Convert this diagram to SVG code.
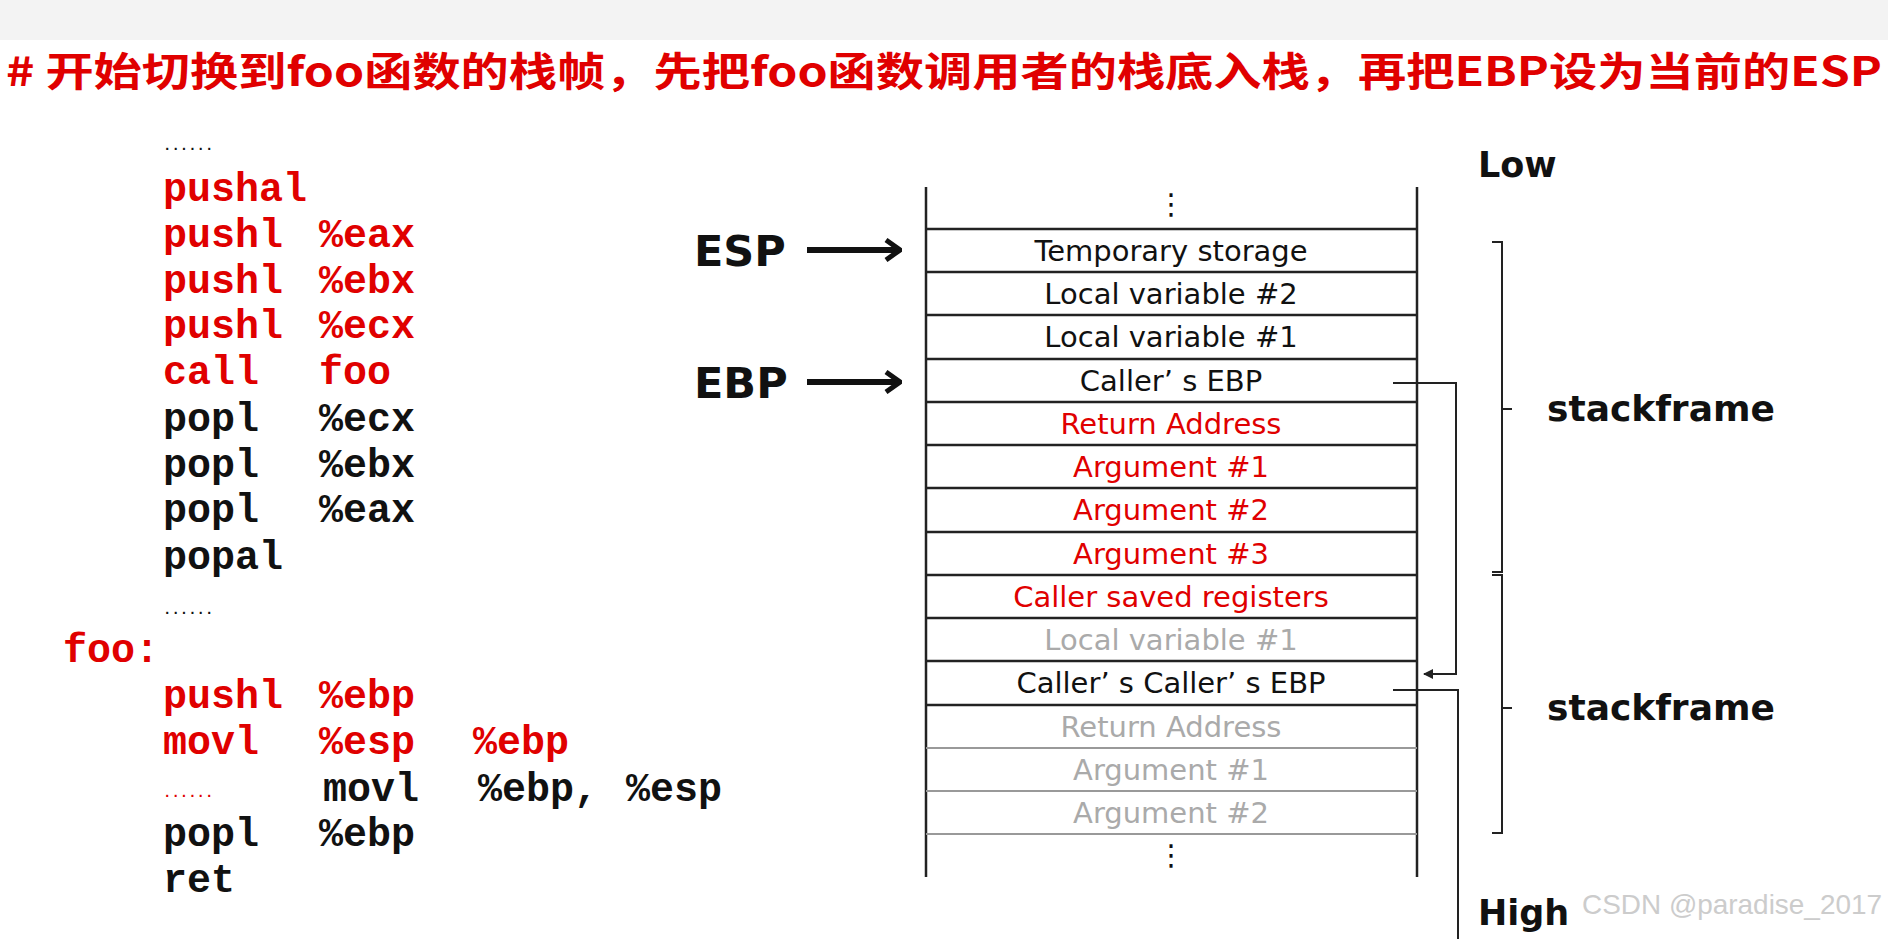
<svg xmlns="http://www.w3.org/2000/svg" width="1888" height="939" viewBox="0 0 1888 939">
<style>
.t{font-family:"Noto Sans CJK SC","Liberation Sans",sans-serif;font-weight:bold;fill:#e00000;font-size:40px}
.c{font-family:"Liberation Mono",monospace;font-weight:bold;font-size:40px}
.d{font-size:14px}
.r{fill:#e00000}.k{fill:#111}
.cell{font-family:"DejaVu Sans",sans-serif;font-size:29px;text-anchor:middle}
.g{fill:#aaa}
.lbl{font-family:"DejaVu Sans",sans-serif;font-weight:bold;fill:#111}
.ln{stroke:#222;stroke-width:2.5;fill:none}
.lg{stroke:#999;stroke-width:2;fill:none}
.cn{stroke:#222;stroke-width:2;fill:none}
</style>
<defs>
<marker id="ah" markerWidth="10" markerHeight="10" refX="9" refY="5" orient="auto" markerUnits="userSpaceOnUse"><path d="M0,0 L10,5 L0,10 z" fill="#222"/></marker>
<marker id="big" markerWidth="18" markerHeight="24" refX="16" refY="12" orient="auto" markerUnits="userSpaceOnUse"><path d="M2,2 L16,12 L2,22" fill="none" stroke="#111" stroke-width="5"/></marker>
</defs>
<rect width="1888" height="939" fill="#fff"/>
<rect width="1888" height="40" fill="#f3f3f3"/>
<text class="t" x="6" y="86" textLength="1876" lengthAdjust="spacingAndGlyphs"># 开始切换到foo函数的栈帧，先把foo函数调用者的栈底入栈，再把EBP设为当前的ESP</text>
<g id="code">
<text class="c k d" x="163" y="150">......</text>
<text class="c r" x="163" y="201">pushal</text>
<text class="c r" x="163" y="247">pushl<tspan x="319">%eax</tspan></text>
<text class="c r" x="163" y="293">pushl<tspan x="319">%ebx</tspan></text>
<text class="c r" x="163" y="338">pushl<tspan x="319">%ecx</tspan></text>
<text class="c r" x="163" y="384">call<tspan x="319">foo</tspan></text>
<text class="c k" x="163" y="431">popl<tspan x="319">%ecx</tspan></text>
<text class="c k" x="163" y="477">popl<tspan x="319">%ebx</tspan></text>
<text class="c k" x="163" y="522">popl<tspan x="319">%eax</tspan></text>
<text class="c k" x="163" y="569">popal</text>
<text class="c k d" x="163" y="614">......</text>
<text class="c r" x="63" y="662">foo:</text>
<text class="c r" x="163" y="708">pushl<tspan x="319">%ebp</tspan></text>
<text class="c r" x="163" y="754">movl<tspan x="319">%esp</tspan><tspan x="473">%ebp</tspan></text>
<text class="c r d" x="163" y="797">......</text>
<text class="c k" x="323" y="801">movl<tspan x="478">%ebp,</tspan><tspan x="626">%esp</tspan></text>
<text class="c k" x="163" y="846">popl<tspan x="319">%ebp</tspan></text>
<text class="c k" x="163" y="892">ret</text>
</g>
<g id="stack">
<line class="ln" x1="926" y1="187" x2="926" y2="877"/>
<line class="ln" x1="1417" y1="187" x2="1417" y2="877"/>
<g class="ln">
<line x1="926" y1="229" x2="1417" y2="229"/><line x1="926" y1="272" x2="1417" y2="272"/>
<line x1="926" y1="315" x2="1417" y2="315"/><line x1="926" y1="359" x2="1417" y2="359"/>
<line x1="926" y1="402" x2="1417" y2="402"/><line x1="926" y1="445" x2="1417" y2="445"/>
<line x1="926" y1="488" x2="1417" y2="488"/><line x1="926" y1="532" x2="1417" y2="532"/>
<line x1="926" y1="575" x2="1417" y2="575"/><line x1="926" y1="618" x2="1417" y2="618"/>
<line x1="926" y1="661" x2="1417" y2="661"/><line x1="926" y1="705" x2="1417" y2="705"/>
</g>
<g class="lg"><line x1="926" y1="748" x2="1417" y2="748"/><line x1="926" y1="791" x2="1417" y2="791"/><line x1="926" y1="834" x2="1417" y2="834"/></g>
<text class="cell k" x="1171" y="214" font-size="22">⋮</text>
<text class="cell k" x="1171" y="261">Temporary storage</text>
<text class="cell k" x="1171" y="304">Local variable #2</text>
<text class="cell k" x="1171" y="347">Local variable #1</text>
<text class="cell k" x="1171" y="391">Caller’ s EBP</text>
<text class="cell r" x="1171" y="434">Return Address</text>
<text class="cell r" x="1171" y="477">Argument #1</text>
<text class="cell r" x="1171" y="520">Argument #2</text>
<text class="cell r" x="1171" y="564">Argument #3</text>
<text class="cell r" x="1171" y="607">Caller saved registers</text>
<text class="cell g" x="1171" y="650">Local variable #1</text>
<text class="cell k" x="1171" y="693">Caller’ s Caller’ s EBP</text>
<text class="cell g" x="1171" y="737">Return Address</text>
<text class="cell g" x="1171" y="780">Argument #1</text>
<text class="cell g" x="1171" y="823">Argument #2</text>
<text class="cell k" x="1171" y="865" font-size="22">⋮</text>
</g>
<g id="labels">
<text class="lbl" x="694" y="266" font-size="43">ESP</text>
<text class="lbl" x="694" y="398" font-size="43">EBP</text>
<text class="lbl" x="1478" y="177" font-size="35">Low</text>
<text class="lbl" x="1478" y="925" font-size="35">High</text>
<text class="lbl" x="1547" y="421" font-size="36">stackframe</text>
<text class="lbl" x="1547" y="720" font-size="36">stackframe</text>
<text x="1582" y="914" font-family="Liberation Sans,sans-serif" font-size="28" fill="#ccc" textLength="300" lengthAdjust="spacingAndGlyphs">CSDN @paradise_2017</text>
</g>
<g id="connectors">
<line x1="807" y1="250" x2="900" y2="250" stroke="#111" stroke-width="6" marker-end="url(#big)"/>
<line x1="807" y1="382" x2="900" y2="382" stroke="#111" stroke-width="6" marker-end="url(#big)"/>
<path class="cn" d="M1393,383 H1456 V674 H1424" marker-end="url(#ah)"/>
<path class="cn" d="M1393,690 H1458 V939"/>
<path class="cn" d="M1492,242 H1502 V572 H1492 M1502,409 H1512"/>
<path class="cn" d="M1492,575 H1502 V833 H1492 M1502,708 H1512"/>
</g>
</svg>
